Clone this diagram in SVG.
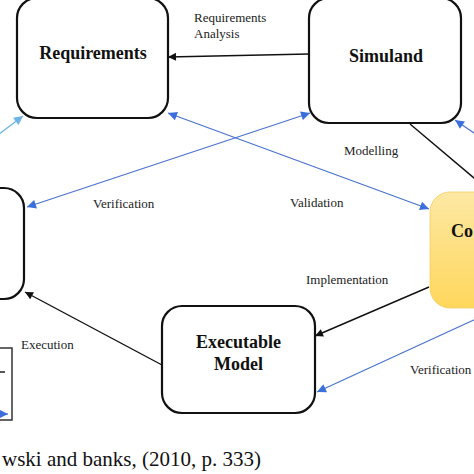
<svg xmlns="http://www.w3.org/2000/svg" width="474" height="474" viewBox="0 0 474 474">
  <defs>
    <style>
      .box { fill: #ffffff; stroke: #111111; stroke-width: 2.2; }
      .title { font-family: "Liberation Serif", "Times New Roman", serif; font-weight: bold; font-size: 18px; fill: #111111; }
      .lbl { font-family: "Liberation Serif", "Times New Roman", serif; font-size: 13px; fill: #222222; }
      .cap { font-family: "Liberation Serif", "Times New Roman", serif; font-size: 21px; fill: #111111; }
      .blk { stroke: #111111; stroke-width: 1.4; fill: none; }
      .blu { stroke: #4A74CF; stroke-width: 1.2; fill: none; }
      .lblu { stroke: #74B6E4; stroke-width: 1.4; fill: none; }
    </style>
    <linearGradient id="yel" x1="0" y1="0" x2="0" y2="1">
      <stop offset="0" stop-color="#FDE8A4"/>
      <stop offset="1" stop-color="#FFD75C"/>
    </linearGradient>
    <marker id="ab" viewBox="0 0 10 10" refX="10" refY="5" markerWidth="10" markerHeight="8" markerUnits="userSpaceOnUse" orient="auto-start-reverse">
      <path d="M0,0 L10,5 L0,10 Z" fill="#111111"/>
    </marker>
    <marker id="au" viewBox="0 0 10 10" refX="10" refY="5" markerWidth="11" markerHeight="9" markerUnits="userSpaceOnUse" orient="auto-start-reverse">
      <path d="M0,0 L10,5 L0,10 Z" fill="#3B6FDB"/>
    </marker>
    <marker id="al" viewBox="0 0 10 10" refX="10" refY="5" markerWidth="11" markerHeight="9" markerUnits="userSpaceOnUse" orient="auto-start-reverse">
      <path d="M0,0 L10,5 L0,10 Z" fill="#6CB4E6"/>
    </marker>
  </defs>
  <rect width="474" height="474" fill="#ffffff"/>

  <g id="connectors">
    <line class="blk" x1="309" y1="54" x2="168" y2="57" marker-end="url(#ab)"/>
    <line class="blk" x1="410" y1="124" x2="490" y2="191.5"/>
    <line class="blk" x1="429" y1="287" x2="315" y2="336" marker-end="url(#ab)"/>
    <line class="blk" x1="162" y1="365" x2="25" y2="292" marker-end="url(#ab)"/>
    <line class="blu" x1="168" y1="113" x2="429" y2="209" marker-start="url(#au)" marker-end="url(#au)"/>
    <line class="blu" x1="27" y1="207" x2="310" y2="113" marker-start="url(#au)" marker-end="url(#au)"/>
    <line class="blu" x1="490" y1="144" x2="455" y2="120" marker-end="url(#au)"/>
    <line class="blu" x1="490" y1="312.6" x2="317" y2="392" marker-end="url(#au)"/>
    <line class="lblu" x1="-5" y1="137" x2="23" y2="116" marker-end="url(#al)"/>
  </g>

  <g id="requirements">
    <rect class="box" x="17" y="-2" width="151" height="120" rx="20"/>
    <text class="title" x="93" y="59" text-anchor="middle">Requirements</text>
  </g>
  <g id="simuland">
    <rect class="box" x="309" y="-2" width="152" height="125" rx="20"/>
    <text class="title" x="386" y="62" text-anchor="middle">Simuland</text>
  </g>
  <g id="results">
    <rect class="box" x="-130" y="188" width="154" height="111" rx="20"/>
  </g>
  <g id="executable">
    <rect class="box" x="162" y="306" width="153" height="107" rx="20"/>
    <text class="title" x="238.5" y="348" text-anchor="middle">Executable</text>
    <text class="title" x="238.5" y="370" text-anchor="middle">Model</text>
  </g>
  <g id="conceptual">
    <rect x="430" y="192" width="151" height="116" rx="20" fill="url(#yel)" stroke="#F2CD63" stroke-width="0.8"/>
    <text class="title" x="451" y="237">Co</text>
  </g>
  <g id="legend">
    <rect x="-50" y="348" width="62" height="72" fill="#ffffff" stroke="#333333" stroke-width="1.5"/>
    <line class="blk" x1="0" y1="372" x2="5" y2="372"/>
    <line class="blu" x1="-10" y1="414" x2="8" y2="414" marker-end="url(#au)"/>
  </g>

  <g id="labels">
    <text class="lbl" x="194" y="22">Requirements</text>
    <text class="lbl" x="194" y="38">Analysis</text>
    <text class="lbl" x="344" y="155">Modelling</text>
    <text class="lbl" x="93" y="208">Verification</text>
    <text class="lbl" x="290" y="207">Validation</text>
    <text class="lbl" x="306" y="284">Implementation</text>
    <text class="lbl" x="21" y="349">Execution</text>
    <text class="lbl" x="410" y="374">Verification</text>
    <text class="cap" x="2" y="466">wski and banks, (2010, p. 333)</text>
  </g>
</svg>
